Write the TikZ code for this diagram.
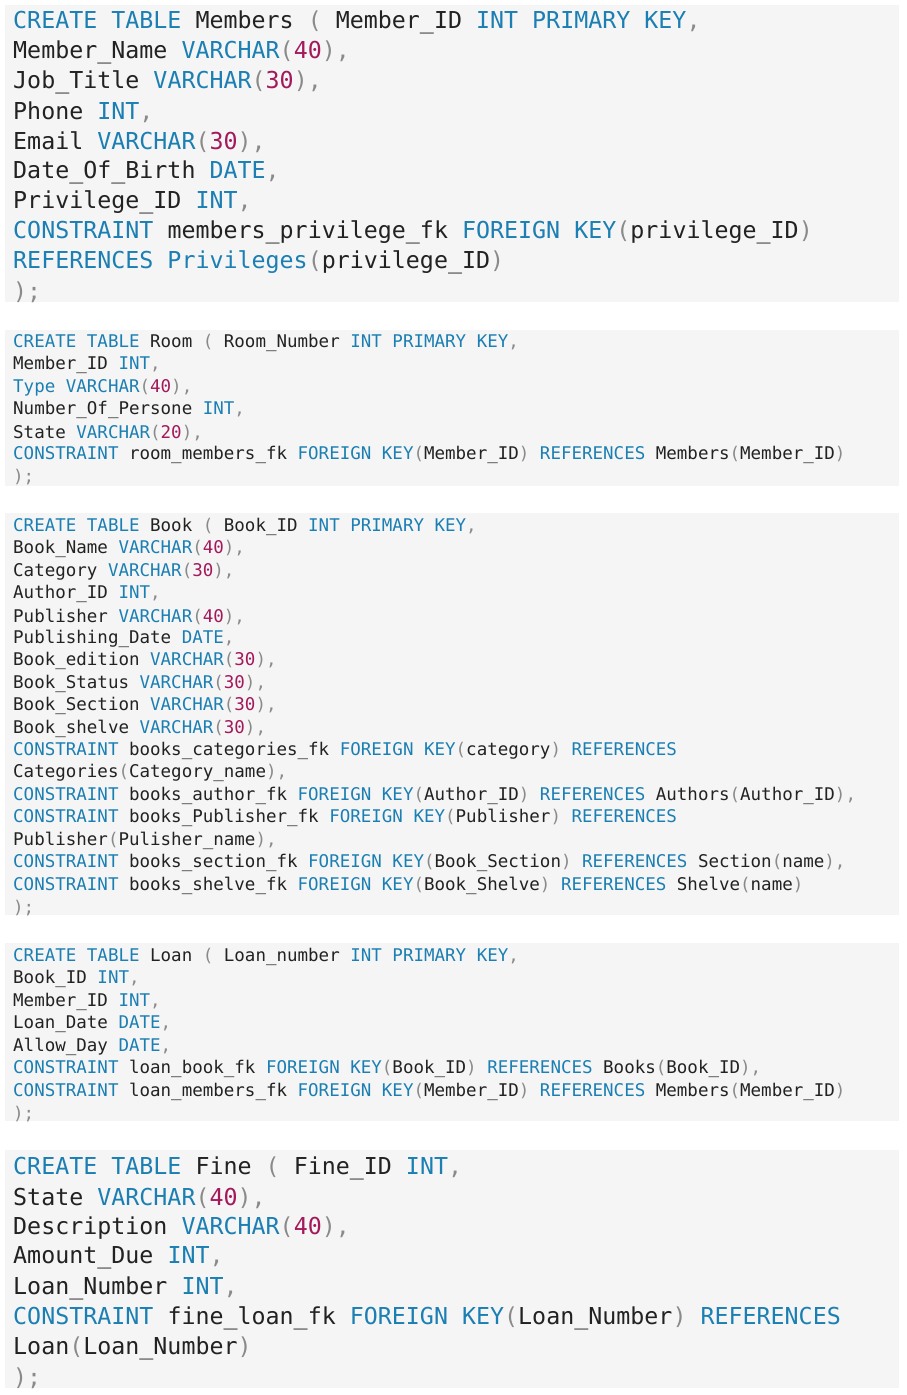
\documentclass[tikz,border=0pt]{standalone}
\usepackage{fontspec}
\setmonofont{DejaVu Sans Mono}
\definecolor{kwc}{HTML}{1B7FB3}
\definecolor{nmc}{HTML}{A3195B}
\definecolor{puc}{HTML}{8A8A8A}
\definecolor{txc}{HTML}{222222}
\definecolor{bgc}{HTML}{F5F5F5}
\newcommand\kw[1]{\textcolor{kwc}{#1}}
\newcommand\nm[1]{\textcolor{nmc}{#1}}
\newcommand\pu[1]{\textcolor{puc}{#1}}
\tikzset{
  big/.style={anchor=west,inner sep=0pt,yshift=-3pt,text=txc,font=\ttfamily\fontsize{23.3}{27}\selectfont},
  small/.style={anchor=west,inner sep=0pt,yshift=-2pt,text=txc,font=\ttfamily\fontsize{17.5}{21}\selectfont},
  panel/.style={fill=bgc,draw=none}
}
\begin{document}
\begin{tikzpicture}[x=1pt,y=-1pt]
\useasboundingbox[fill=white] (0,0) rectangle (906,1395);
\fill[panel] (5,5) rectangle (899,302);
\fill[panel] (5,330) rectangle (899,486);
\fill[panel] (5,513) rectangle (899,915);
\fill[panel] (5,943) rectangle (899,1121);
\fill[panel] (5,1150) rectangle (899,1388);
% Members
\node[big] (a1) at (13,19) {\kw{CREATE TABLE} Members \pu{(} Member\_ID \kw{INT PRIMARY KEY}\pu{,}};
\node[big] (a2) at (13,49) {Member\_Name \kw{VARCHAR}\pu{(}\nm{40}\pu{),}};
\node[big] (a3) at (13,79) {Job\_Title \kw{VARCHAR}\pu{(}\nm{30}\pu{),}};
\node[big] (a4) at (13,109) {Phone \kw{INT}\pu{,}};
\node[big] (a5) at (13,139) {Email \kw{VARCHAR}\pu{(}\nm{30}\pu{),}};
\node[big] (a6) at (13,169) {Date\_Of\_Birth \kw{DATE}\pu{,}};
\node[big] (a7) at (13,199) {Privilege\_ID \kw{INT}\pu{,}};
\node[big] (a8) at (13,229) {\kw{CONSTRAINT} members\_privilege\_fk \kw{FOREIGN KEY}\pu{(}privilege\_ID\pu{)}};
\node[big] (a9) at (13,259) {\kw{REFERENCES Privileges}\pu{(}privilege\_ID\pu{)}};
\node[big] (a10) at (13,289) {\pu{);}};
% Room
\node[small] (b1) at (13,341) {\kw{CREATE TABLE} Room \pu{(} Room\_Number \kw{INT PRIMARY KEY}\pu{,}};
\node[small] (b2) at (13,363.4) {Member\_ID \kw{INT}\pu{,}};
\node[small] (b3) at (13,385.8) {\kw{Type VARCHAR}\pu{(}\nm{40}\pu{),}};
\node[small] (b4) at (13,408.2) {Number\_Of\_Persone \kw{INT}\pu{,}};
\node[small] (b5) at (13,430.6) {State \kw{VARCHAR}\pu{(}\nm{20}\pu{),}};
\node[small] (b6) at (13,453) {\kw{CONSTRAINT} room\_members\_fk \kw{FOREIGN KEY}\pu{(}Member\_ID\pu{)} \kw{REFERENCES} Members\pu{(}Member\_ID\pu{)}};
\node[small] (b7) at (13,475.4) {\pu{);}};
% Book
\node[small] (c1) at (13,525) {\kw{CREATE TABLE} Book \pu{(} Book\_ID \kw{INT PRIMARY KEY}\pu{,}};
\node[small] (c2) at (13,547.4) {Book\_Name \kw{VARCHAR}\pu{(}\nm{40}\pu{),}};
\node[small] (c3) at (13,569.8) {Category \kw{VARCHAR}\pu{(}\nm{30}\pu{),}};
\node[small] (c4) at (13,592.2) {Author\_ID \kw{INT}\pu{,}};
\node[small] (c5) at (13,614.6) {Publisher \kw{VARCHAR}\pu{(}\nm{40}\pu{),}};
\node[small] (c6) at (13,637) {Publishing\_Date \kw{DATE}\pu{,}};
\node[small] (c7) at (13,659.4) {Book\_edition \kw{VARCHAR}\pu{(}\nm{30}\pu{),}};
\node[small] (c8) at (13,681.8) {Book\_Status \kw{VARCHAR}\pu{(}\nm{30}\pu{),}};
\node[small] (c9) at (13,704.2) {Book\_Section \kw{VARCHAR}\pu{(}\nm{30}\pu{),}};
\node[small] (c10) at (13,726.6) {Book\_shelve \kw{VARCHAR}\pu{(}\nm{30}\pu{),}};
\node[small] (c11) at (13,749) {\kw{CONSTRAINT} books\_categories\_fk \kw{FOREIGN KEY}\pu{(}category\pu{)} \kw{REFERENCES}};
\node[small] (c12) at (13,771.4) {Categories\pu{(}Category\_name\pu{),}};
\node[small] (c13) at (13,793.8) {\kw{CONSTRAINT} books\_author\_fk \kw{FOREIGN KEY}\pu{(}Author\_ID\pu{)} \kw{REFERENCES} Authors\pu{(}Author\_ID\pu{),}};
\node[small] (c14) at (13,816.2) {\kw{CONSTRAINT} books\_Publisher\_fk \kw{FOREIGN KEY}\pu{(}Publisher\pu{)} \kw{REFERENCES}};
\node[small] (c15) at (13,838.6) {Publisher\pu{(}Pulisher\_name\pu{),}};
\node[small] (c16) at (13,861) {\kw{CONSTRAINT} books\_section\_fk \kw{FOREIGN KEY}\pu{(}Book\_Section\pu{)} \kw{REFERENCES} Section\pu{(}name\pu{),}};
\node[small] (c17) at (13,883.4) {\kw{CONSTRAINT} books\_shelve\_fk \kw{FOREIGN KEY}\pu{(}Book\_Shelve\pu{)} \kw{REFERENCES} Shelve\pu{(}name\pu{)}};
\node[small] (c18) at (13,905.8) {\pu{);}};
% Loan
\node[small] (d1) at (13,955) {\kw{CREATE TABLE} Loan \pu{(} Loan\_number \kw{INT PRIMARY KEY}\pu{,}};
\node[small] (d2) at (13,977.4) {Book\_ID \kw{INT}\pu{,}};
\node[small] (d3) at (13,999.8) {Member\_ID \kw{INT}\pu{,}};
\node[small] (d4) at (13,1022.2) {Loan\_Date \kw{DATE}\pu{,}};
\node[small] (d5) at (13,1044.6) {Allow\_Day \kw{DATE}\pu{,}};
\node[small] (d6) at (13,1067) {\kw{CONSTRAINT} loan\_book\_fk \kw{FOREIGN KEY}\pu{(}Book\_ID\pu{)} \kw{REFERENCES} Books\pu{(}Book\_ID\pu{),}};
\node[small] (d7) at (13,1089.4) {\kw{CONSTRAINT} loan\_members\_fk \kw{FOREIGN KEY}\pu{(}Member\_ID\pu{)} \kw{REFERENCES} Members\pu{(}Member\_ID\pu{)}};
\node[small] (d8) at (13,1111.8) {\pu{);}};
% Fine
\node[big] (e1) at (13,1165) {\kw{CREATE TABLE} Fine \pu{(} Fine\_ID \kw{INT}\pu{,}};
\node[big] (e2) at (13,1195) {State \kw{VARCHAR}\pu{(}\nm{40}\pu{),}};
\node[big] (e3) at (13,1225) {Description \kw{VARCHAR}\pu{(}\nm{40}\pu{),}};
\node[big] (e4) at (13,1255) {Amount\_Due \kw{INT}\pu{,}};
\node[big] (e5) at (13,1285) {Loan\_Number \kw{INT}\pu{,}};
\node[big] (e6) at (13,1315) {\kw{CONSTRAINT} fine\_loan\_fk \kw{FOREIGN KEY}\pu{(}Loan\_Number\pu{)} \kw{REFERENCES}};
\node[big] (e7) at (13,1345) {Loan\pu{(}Loan\_Number\pu{)}};
\node[big] (e8) at (13,1375) {\pu{);}};
\end{tikzpicture}
\end{document}
